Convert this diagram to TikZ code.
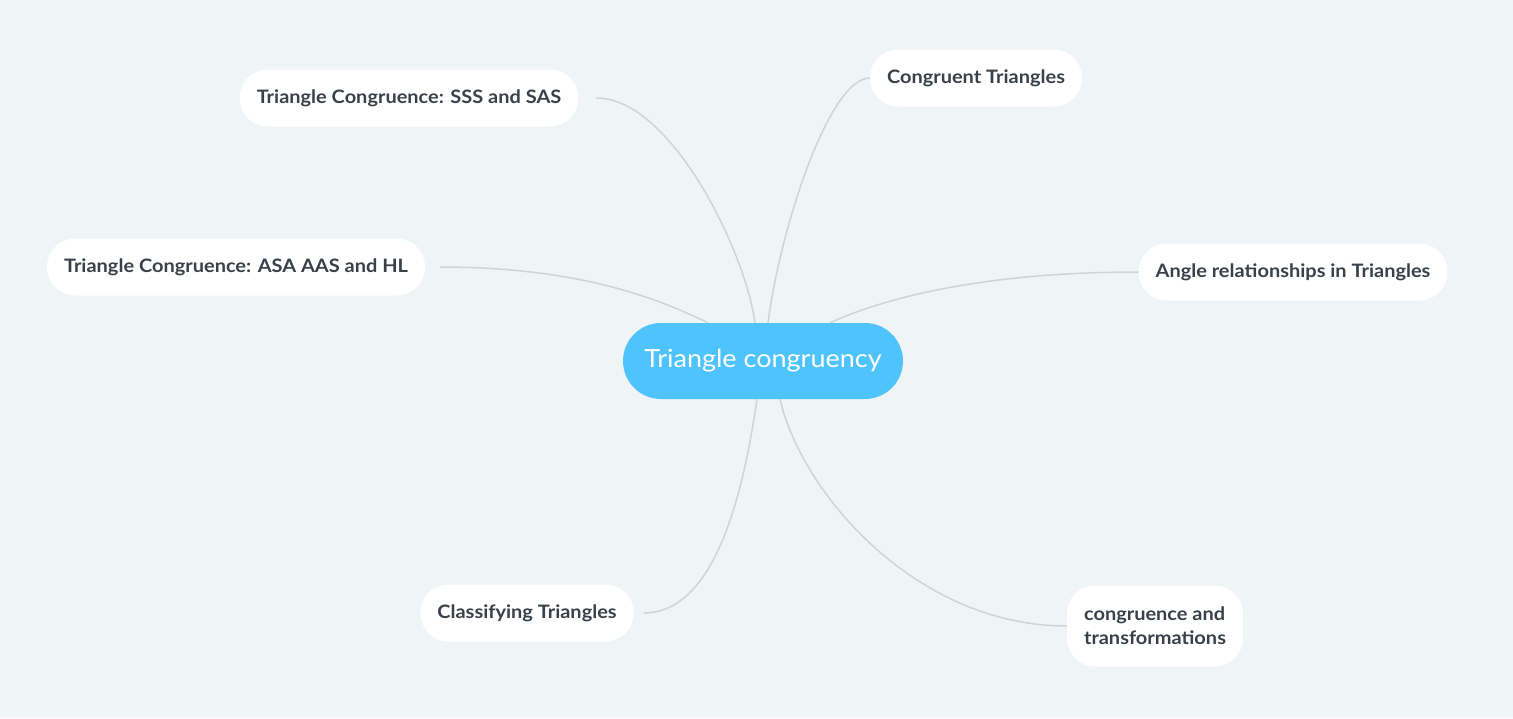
\documentclass[tikz,border=0pt]{standalone}
\usepackage{fontspec}
\setmainfont{Lato}[FakeStretch=1.08]
\definecolor{bgcol}{HTML}{EFF4F7}
\definecolor{rootcol}{HTML}{4FC3FC}
\definecolor{textcol}{HTML}{3A4049}
\definecolor{linkcol}{HTML}{D0D4D8}
\tikzset{
  leaf/.style={fill=white, text=textcol, font=\fontsize{18.5}{24}\selectfont\bfseries,
    rounded corners=28pt, minimum height=57pt, inner xsep=17pt, align=left},
  rootnode/.style={fill=rootcol, text=white, font=\fontsize{25}{30}\selectfont,
    rounded corners=38pt, minimum height=76pt, minimum width=280pt},
  link/.style={draw=linkcol, line width=1.5pt}
}
\begin{document}
\begin{tikzpicture}[x=1pt, y=-1pt]
  \fill [bgcol] (0, 0) rectangle (1513, 718);
  \useasboundingbox (0, 0) rectangle (1513, 718);
  % centre and branches
  \node [rootnode] (root) at (763, 361) {Triangle congruency};
  \node [leaf] (sss) at (409, 98) {Triangle Congruence: SSS and SAS};
  \node [leaf] (asa) at (236, 267) {Triangle Congruence: ASA AAS and HL};
  \node [leaf] (classify) at (527, 613) {Classifying Triangles};
  \node [leaf] (congruent) at (976, 78) {Congruent Triangles};
  \node [leaf] (angle) at (1293, 272) {Angle relationships in Triangles};
  \node [leaf, minimum height=81pt] (transf) at (1155, 626) {congruence and\\transformations};
  % connectors
  \draw [link] ([xshift=18pt]sss.east) .. controls +(74, 0) and +(-10, -73) .. ([xshift=-8pt]root.north);
  \draw [link] ([xshift=15pt]asa.east) .. controls +(142, 0) and +(-48, -23) .. ([xshift=-55pt]root.north);
  \draw [link] ([xshift=10pt]classify.east) .. controls +(75, 0) and +(-12, 81) .. ([xshift=-6pt]root.south);
  \draw [link] (congruent.west) .. controls +(-41, 0) and +(12, -93) .. ([xshift=5pt]root.north);
  \draw [link] (angle.west) .. controls +(-160, 0) and +(50, -23) .. ([xshift=67pt]root.north);
  \draw [link] (transf.west) .. controls +(-150, 0) and +(22, 95) .. ([xshift=17pt]root.south);
\end{tikzpicture}
\end{document}
